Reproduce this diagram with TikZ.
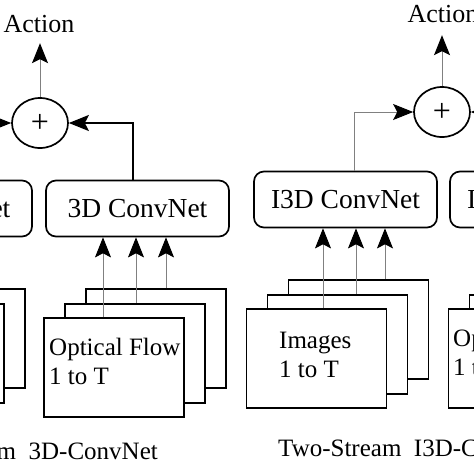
\documentclass[tikz,border=0pt]{standalone}
\usepackage{fontspec}
\setmainfont{Liberation Serif}
\usetikzlibrary{arrows.meta,shapes.geometric}
\begin{document}
\begin{tikzpicture}[x=1pt,y=-1pt,
  every node/.style={font=\fontsize{26}{29}\selectfont},
  netbox/.style={draw,line width=1.7pt,rounded corners=10pt,minimum width=183pt,minimum height=56pt,inner sep=0pt,font=\fontsize{27.5}{30}\selectfont},
  sumnode/.style={draw,ellipse,line width=1.7pt,minimum width=56pt,minimum height=50pt,inner sep=0pt,font=\fontsize{32}{32}\selectfont},
  layer/.style={draw,fill=white,line width=1.7pt,minimum width=140pt,minimum height=99pt,inner sep=0pt},
  stacktext/.style={align=left,anchor=north west,inner sep=0pt,font=\fontsize{25}{29}\selectfont},
  lbl/.style={inner sep=0pt},
  caption/.style={inner sep=0pt,font=\fontsize{25}{29}\selectfont},
  arrowtip/.style={-{Stealth[length=20pt,width=16pt,inset=4pt,color=black]}},
  conn/.style={draw=gray,line width=1pt},
  boldconn/.style={draw=black,line width=1.7pt},
]
\useasboundingbox (0,0) rectangle (474,474);
\clip (0,0) rectangle (474,474);

% ---------------- left panel ----------------
\node[sumnode] (sumL) at (40,123) {+};
\node[lbl,anchor=base,text depth=11pt] (actL) at (39,32) {Action};
\draw[conn,arrowtip] (sumL.north) -- (sumL.north |- actL.south);

\node[netbox] (boxL1) at (-59.5,208.5) {3D ConvNet};
\node[netbox] (boxL2) at (137.5,208.5) {3D ConvNet};
\draw[boldconn,arrowtip] ([xshift=-4.5pt]boxL2.north) |- (sumL.east);
\draw[boldconn,arrowtip] ([xshift=6.5pt]boxL1.north) |- (sumL.west);

% left (cropped) stack
\node[layer] (imLB) at (-45,338.5) {};
\node[layer] (imLM) at (-66,353.5) {};

% optical flow stack
\node[layer] (ofLB) at (156,338.5) {};
\node[layer] (ofLM) at (135,353.5) {};
\node[layer] (ofLF) at (114,367.5) {};
\node[stacktext] (ofLt) at (49,338) {Optical Flow\\1 to T};
\coordinate (pL1) at ([xshift=-11pt]ofLF.north);
\coordinate (pL2) at ([xshift=1pt]ofLM.north);
\coordinate (pL3) at ([xshift=10pt]ofLB.north);
\draw[conn,arrowtip] (pL1) -- (pL1 |- boxL2.south);
\draw[conn,arrowtip] (pL2) -- (pL2 |- boxL2.south);
\draw[conn,arrowtip] (pL3) -- (pL3 |- boxL2.south);

\node[caption,anchor=base east] (capL) at (158,459) {Two-Stream\ \ 3D-ConvNet};

% ---------------- right panel ----------------
\node[sumnode] (sumR) at (442,112) {+};
\node[lbl,anchor=base,text depth=13pt] (actR) at (443,22) {Action};
\draw[conn,arrowtip] (sumR.north) -- (sumR.north |- actR.south);

\node[netbox] (boxR1) at (345.5,199.5) {I3D ConvNet};
\node[netbox] (boxR2) at (541.5,199.5) {I3D ConvNet};
\draw[conn,arrowtip] ([xshift=8.5pt]boxR1.north) |- (sumR.west);
\draw[conn,arrowtip] ([xshift=-6.5pt]boxR2.north) |- (sumR.east);

% images stack
\node[layer] (imRB) at (358.5,329.5) {};
\node[layer] (imRM) at (337.5,344.5) {};
\node[layer] (imRF) at (316.5,358.5) {};
\node[stacktext] (imRt) at (279,332) {Images\\1 to T};
\coordinate (pR1) at ([xshift=6.5pt]imRF.north);
\coordinate (pR2) at ([xshift=18.5pt]imRM.north);
\coordinate (pR3) at ([xshift=26.5pt]imRB.north);
\draw[conn,arrowtip] (pR1) -- (pR1 |- boxR1.south);
\draw[conn,arrowtip] (pR2) -- (pR2 |- boxR1.south);
\draw[conn,arrowtip] (pR3) -- (pR3 |- boxR1.south);

% optical flow stack (cropped)
\node[layer] (ofRB) at (560.5,329.5) {};
\node[layer] (ofRM) at (539.5,344.5) {};
\node[layer] (ofRF) at (518.5,358.5) {};
\node[stacktext] (ofRt) at (453,329) {Optical Flow\\1 to T};

\node[caption,anchor=base west] (capR) at (278,456) {Two-Stream\ \ I3D-ConvNet};
\end{tikzpicture}
\end{document}
